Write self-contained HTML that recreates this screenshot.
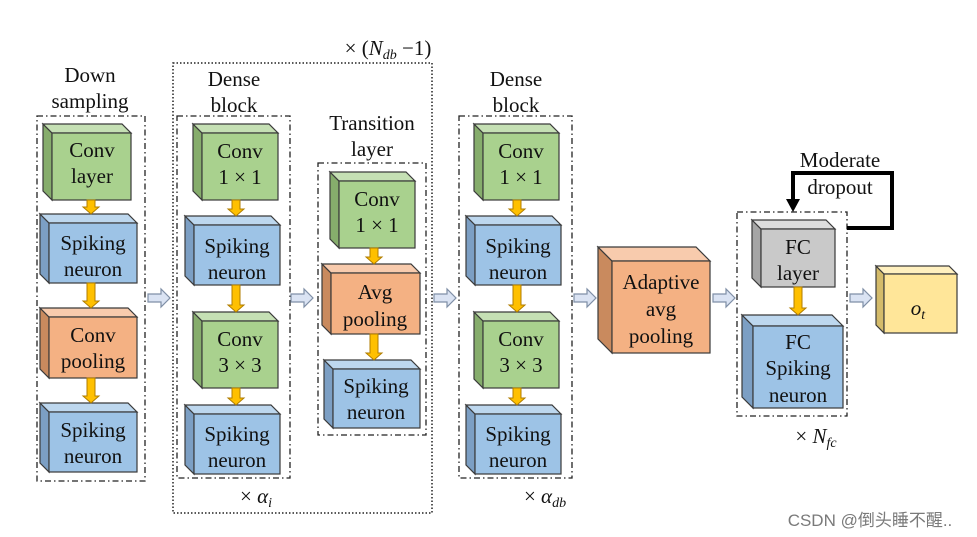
<!DOCTYPE html>
<html><head><meta charset="utf-8"><style>
html,body{margin:0;padding:0;background:#fff}
svg{display:block}
text{font-family:"Liberation Serif",serif;font-size:21px;fill:#111;text-anchor:middle}
.it{font-style:italic}
.g .f{fill:#a9d18e}.g .t{fill:#c5e0b4}.g .s{fill:#86ad6c}
.b .f{fill:#9dc3e6}.b .t{fill:#bdd7ee}.b .s{fill:#7c9fc4}
.o .f{fill:#f4b183}.o .t{fill:#f8cbad}.o .s{fill:#c98a5e}
.y .f{fill:#ffe699}.y .t{fill:#fff0bf}.y .s{fill:#d4bb6a}
.k .f{fill:#c9c9c9}.k .t{fill:#dddddd}.k .s{fill:#a5a5a5}
g polygon,g rect{stroke:#3a3a3a;stroke-width:1.2}
.dash{fill:none;stroke:#222;stroke-width:1.3;stroke-dasharray:6,3,1.5,3}
.dot{fill:none;stroke:#222;stroke-width:1.5;stroke-dasharray:1.5,2}
.oa{fill:#ffc000;stroke:#b07d00;stroke-width:1}
.ha{fill:#dae3f3;stroke:#7f8fa6;stroke-width:1.2}
</style></head><body>
<svg width="977" height="537" viewBox="0 0 977 537" xmlns="http://www.w3.org/2000/svg">
<rect class="dash" x="37" y="116" width="108" height="365"/>
<rect class="dot" x="173" y="63" width="259" height="450"/>
<rect class="dash" x="177" y="116" width="113" height="362"/>
<rect class="dash" x="318" y="163" width="108" height="272"/>
<rect class="dash" x="459" y="116" width="113" height="362"/>
<rect class="dash" x="737" y="212" width="110" height="204"/>

<g class="g" transform="translate(52,133)"><polygon class="s" points="-9,-9 0,0 0,67 -9,58"/><polygon class="t" points="-9,-9 70,-9 79,0 0,0"/><rect class="f" width="79" height="67"/></g>
<g class="b" transform="translate(49,223)"><polygon class="s" points="-9,-9 0,0 0,60 -9,51"/><polygon class="t" points="-9,-9 79,-9 88,0 0,0"/><rect class="f" width="88" height="60"/></g>
<g class="o" transform="translate(49,317)"><polygon class="s" points="-9,-9 0,0 0,61 -9,52"/><polygon class="t" points="-9,-9 79,-9 88,0 0,0"/><rect class="f" width="88" height="61"/></g>
<g class="b" transform="translate(49,412)"><polygon class="s" points="-9,-9 0,0 0,60 -9,51"/><polygon class="t" points="-9,-9 79,-9 88,0 0,0"/><rect class="f" width="88" height="60"/></g>

<g class="g" transform="translate(202,133)"><polygon class="s" points="-9,-9 0,0 0,67 -9,58"/><polygon class="t" points="-9,-9 67,-9 76,0 0,0"/><rect class="f" width="76" height="67"/></g>
<g class="b" transform="translate(194,225)"><polygon class="s" points="-9,-9 0,0 0,60 -9,51"/><polygon class="t" points="-9,-9 77,-9 86,0 0,0"/><rect class="f" width="86" height="60"/></g>
<g class="g" transform="translate(202,321)"><polygon class="s" points="-9,-9 0,0 0,67 -9,58"/><polygon class="t" points="-9,-9 67,-9 76,0 0,0"/><rect class="f" width="76" height="67"/></g>
<g class="b" transform="translate(194,414)"><polygon class="s" points="-9,-9 0,0 0,60 -9,51"/><polygon class="t" points="-9,-9 77,-9 86,0 0,0"/><rect class="f" width="86" height="60"/></g>

<g class="g" transform="translate(339,181)"><polygon class="s" points="-9,-9 0,0 0,67 -9,58"/><polygon class="t" points="-9,-9 67,-9 76,0 0,0"/><rect class="f" width="76" height="67"/></g>
<g class="o" transform="translate(331,273)"><polygon class="s" points="-9,-9 0,0 0,61 -9,52"/><polygon class="t" points="-9,-9 80,-9 89,0 0,0"/><rect class="f" width="89" height="61"/></g>
<g class="b" transform="translate(333,369)"><polygon class="s" points="-9,-9 0,0 0,59 -9,50"/><polygon class="t" points="-9,-9 78,-9 87,0 0,0"/><rect class="f" width="87" height="59"/></g>

<g class="g" transform="translate(483,133)"><polygon class="s" points="-9,-9 0,0 0,67 -9,58"/><polygon class="t" points="-9,-9 67,-9 76,0 0,0"/><rect class="f" width="76" height="67"/></g>
<g class="b" transform="translate(475,225)"><polygon class="s" points="-9,-9 0,0 0,60 -9,51"/><polygon class="t" points="-9,-9 77,-9 86,0 0,0"/><rect class="f" width="86" height="60"/></g>
<g class="g" transform="translate(483,321)"><polygon class="s" points="-9,-9 0,0 0,67 -9,58"/><polygon class="t" points="-9,-9 67,-9 76,0 0,0"/><rect class="f" width="76" height="67"/></g>
<g class="b" transform="translate(475,414)"><polygon class="s" points="-9,-9 0,0 0,60 -9,51"/><polygon class="t" points="-9,-9 77,-9 86,0 0,0"/><rect class="f" width="86" height="60"/></g>

<g class="o" transform="translate(612,261)"><polygon class="s" points="-14,-14 0,0 0,92 -14,78"/><polygon class="t" points="-14,-14 84,-14 98,0 0,0"/><rect class="f" width="98" height="92"/></g>
<g class="k" transform="translate(761,229)"><polygon class="s" points="-9,-9 0,0 0,58 -9,49"/><polygon class="t" points="-9,-9 65,-9 74,0 0,0"/><rect class="f" width="74" height="58"/></g>
<g class="b" transform="translate(753,326)"><polygon class="s" points="-11,-11 0,0 0,82 -11,71"/><polygon class="t" points="-11,-11 79,-11 90,0 0,0"/><rect class="f" width="90" height="82"/></g>
<g class="y" transform="translate(884,274)"><polygon class="s" points="-8,-8 0,0 0,59 -8,51"/><polygon class="t" points="-8,-8 65,-8 73,0 0,0"/><rect class="f" width="73" height="59"/></g>

<polygon class="oa" points="87,200 95,200 95,207 99,207 91,214 83,207 87,207"/>
<polygon class="oa" points="87,283 95,283 95,301 99,301 91,308 83,301 87,301"/>
<polygon class="oa" points="87,378 95,378 95,396 99,396 91,403 83,396 87,396"/>
<polygon class="oa" points="232,200 240,200 240,209 244,209 236,216 228,209 232,209"/>
<polygon class="oa" points="232,285 240,285 240,305 244,305 236,312 228,305 232,305"/>
<polygon class="oa" points="232,388 240,388 240,398 244,398 236,405 228,398 232,398"/>
<polygon class="oa" points="370,248 378,248 378,257 382,257 374,264 366,257 370,257"/>
<polygon class="oa" points="370,334 378,334 378,353 382,353 374,360 366,353 370,353"/>
<polygon class="oa" points="513,200 521,200 521,209 525,209 517,216 509,209 513,209"/>
<polygon class="oa" points="513,285 521,285 521,305 525,305 517,312 509,305 513,305"/>
<polygon class="oa" points="513,388 521,388 521,398 525,398 517,405 509,398 513,398"/>
<polygon class="oa" points="794,287 802,287 802,308 806,308 798,315 790,308 794,308"/>

<polygon class="ha" points="148,294 161,294 161,289 170,298 161,307 161,302 148,302"/>
<polygon class="ha" points="291,294 304,294 304,289 313,298 304,307 304,302 291,302"/>
<polygon class="ha" points="434,294 447,294 447,289 456,298 447,307 447,302 434,302"/>
<polygon class="ha" points="574,294 587,294 587,289 596,298 587,307 587,302 574,302"/>
<polygon class="ha" points="713,294 726,294 726,289 735,298 726,307 726,302 713,302"/>
<polygon class="ha" points="850,294 863,294 863,289 872,298 863,307 863,302 850,302"/>

<polyline points="847,228 892,228 892,173 793,173 793,200" fill="none" stroke="#000" stroke-width="4"/>
<polygon points="786,199 800,199 793,212" fill="#000"/>

<text x="90" y="82">Down</text><text x="90" y="108">sampling</text>
<text x="234" y="86">Dense</text><text x="234" y="112">block</text>
<text x="372" y="130">Transition</text><text x="372" y="156">layer</text>
<text x="516" y="86">Dense</text><text x="516" y="112">block</text>
<text x="388" y="55">× (<tspan class="it">N</tspan><tspan class="it" font-size="14" dy="4">db</tspan><tspan dy="-4"> −1)</tspan></text>
<text x="256" y="503">× <tspan class="it">α</tspan><tspan class="it" font-size="14" dy="4">i</tspan></text>
<text x="545" y="503">× <tspan class="it">α</tspan><tspan class="it" font-size="14" dy="4">db</tspan></text>
<text x="816" y="443">× <tspan class="it">N</tspan><tspan class="it" font-size="14" dy="4">fc</tspan></text>
<text x="840" y="167">Moderate</text><text x="840" y="194">dropout</text>

<text x="92" y="157">Conv</text><text x="92" y="183">layer</text>
<text x="93" y="250">Spiking</text><text x="93" y="276">neuron</text>
<text x="93" y="342">Conv</text><text x="93" y="368">pooling</text>
<text x="93" y="437">Spiking</text><text x="93" y="463">neuron</text>

<text x="240" y="158">Conv</text><text x="240" y="184">1 × 1</text>
<text x="237" y="253">Spiking</text><text x="237" y="279">neuron</text>
<text x="240" y="346">Conv</text><text x="240" y="372">3 × 3</text>
<text x="237" y="441">Spiking</text><text x="237" y="467">neuron</text>

<text x="377" y="206">Conv</text><text x="377" y="232">1 × 1</text>
<text x="375" y="299">Avg</text><text x="375" y="326">pooling</text>
<text x="376" y="393">Spiking</text><text x="376" y="419">neuron</text>

<text x="521" y="158">Conv</text><text x="521" y="184">1 × 1</text>
<text x="518" y="253">Spiking</text><text x="518" y="279">neuron</text>
<text x="521" y="346">Conv</text><text x="521" y="372">3 × 3</text>
<text x="518" y="441">Spiking</text><text x="518" y="467">neuron</text>

<text x="661" y="289">Adaptive</text><text x="661" y="316">avg</text><text x="661" y="343">pooling</text>
<text x="798" y="254">FC</text><text x="798" y="280">layer</text>
<text x="798" y="349">FC</text><text x="798" y="375">Spiking</text><text x="798" y="402">neuron</text>
<text x="918" y="315" class="it">o<tspan font-size="14" dy="4">t</tspan></text>

<text x="870" y="526" style="font-family:'Liberation Sans','Noto Sans CJK SC',sans-serif;font-size:17px;fill:#7a7a7a">CSDN @倒头睡不醒..</text>
</svg>
</body></html>
